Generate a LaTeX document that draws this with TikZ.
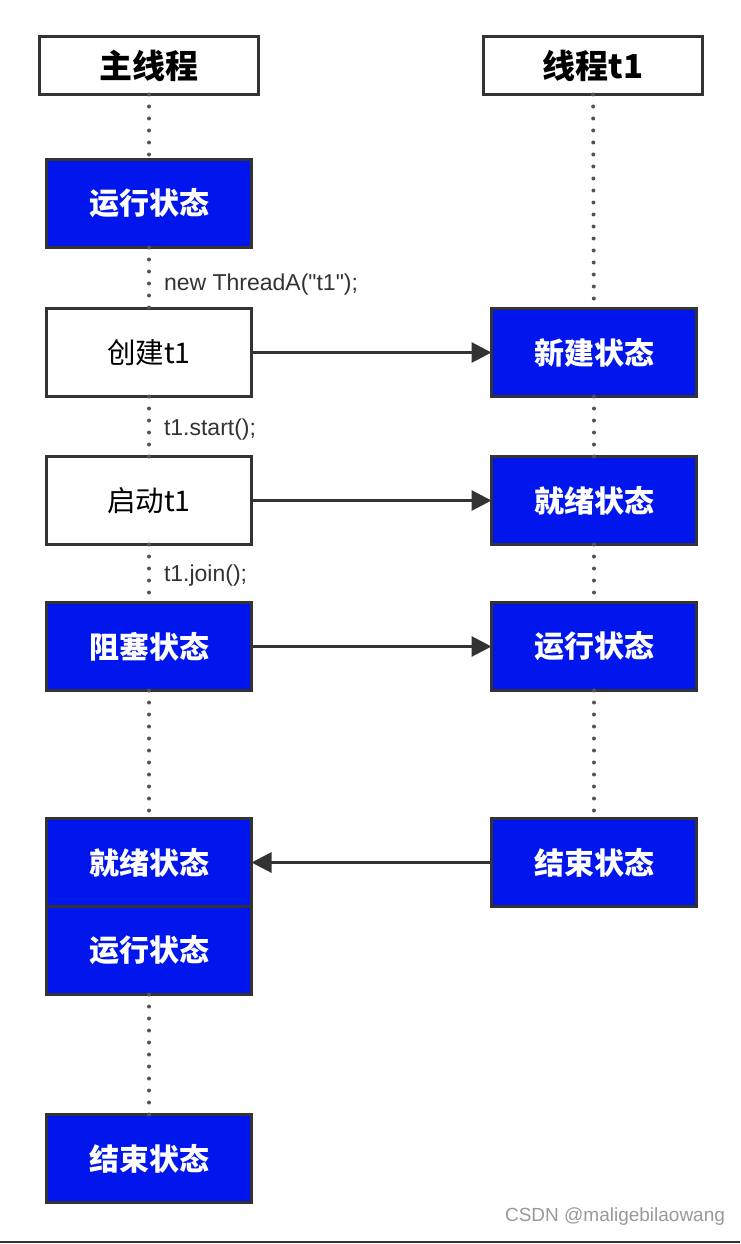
\documentclass[tikz,border=0pt]{standalone}
\usepackage{fontspec}
\setmainfont{Liberation Sans}
\newfontfamily\cjk{Noto Sans CJK SC}
\usetikzlibrary{positioning,arrows.meta}
\definecolor{stateblue}{RGB}{0,22,236}
\definecolor{edge}{RGB}{51,51,51}
\begin{document}
\begin{tikzpicture}[x=1pt, y=-1pt, outer sep=0pt,
  head/.style = {draw=edge, line width=3pt, fill=white, minimum width=219pt, minimum height=58pt, font=\cjk\bfseries\fontsize{33}{33}\selectfont},
  state/.style = {draw=edge, line width=3pt, fill=stateblue, text=white, minimum width=205pt, minimum height=88pt, font=\cjk\bfseries\fontsize{30}{30}\selectfont},
  act/.style = {draw=edge, line width=3pt, fill=white, minimum width=205pt, minimum height=88pt, font=\cjk\fontsize{28.5}{28.5}\selectfont},
  life/.style = {draw=edge!85!white, line width=4pt, line cap=round, dash pattern=on 0pt off 12pt},
  msg/.style = {draw=edge, line width=3pt, -{Triangle[length=20pt,width=20pt]}},
  code/.style = {inner sep=0pt, text=edge, font=\fontsize{23}{23}\selectfont}]
\useasboundingbox (0,0) rectangle (740,1244);

% lifelines
\node[head] (hL) at (149,65.5) {主线程};
\node[head] (hR) [right=225pt of hL] {线程t1};
\node[state] (runL) [below=65pt of hL] {运行状态};
\node[act] (newL) [below=61pt of runL] {创建t1};
\node[act] (startL) [below=60pt of newL] {启动t1};
\node[state] (blockL) [below=58pt of startL] {阻塞状态};
\node[state] (readyL) [below=128pt of blockL] {就绪状态};
\node[state] (run2L) [below=0pt of readyL] {运行状态};
\node[state] (endL) [below=120pt of run2L] {结束状态};

\node[state] (newR) [right=240pt of newL] {新建状态};
\node[state] (readyR) [right=240pt of startL] {就绪状态};
\node[state] (runR) [right=240pt of blockL] {运行状态};
\node[state] (endR) [right=240pt of readyL] {结束状态};

\draw[life] (hL) -- (runL);
\draw[life] (runL) -- node[code, right=15pt, yshift=-7pt] {new ThreadA(\textquotedbl t1\textquotedbl);} (newL);
\draw[life] (newL) -- node[code, right=15pt, yshift=-3pt] {t1.start();} (startL);
\draw[life] (startL) -- node[code, right=15pt, yshift=-2pt] {t1.join();} (blockL);
\draw[life] (blockL) -- (readyL);
\draw[life] (run2L) -- (endL);
\draw[life] (hR) -- (newR);
\draw[life] (newR) -- (readyR);
\draw[life] (readyR) -- (runR);
\draw[life] (runR) -- (endR);

% messages
\draw[msg] (newL) -- (newR);
\draw[msg] (startL) -- (readyR);
\draw[msg] (blockL) -- (runR);
\draw[msg] (endR) -- (readyL);

\node[inner sep=0pt, anchor=east, text=gray!80, font=\fontsize{19}{19}\selectfont] (mark) at (725,1217) {CSDN @maligebilaowang};
\draw[edge, line width=2pt] (0,1242) -- (740,1242);
\end{tikzpicture}
\end{document}
